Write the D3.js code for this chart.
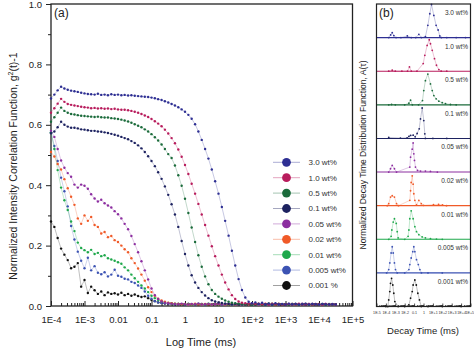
<!DOCTYPE html>
<html>
<head>
<meta charset="utf-8">
<script src="https://cdnjs.cloudflare.com/ajax/libs/d3/7.8.5/d3.min.js"></script>
<style>
body{margin:0;background:#fff;}
svg{display:block;font-family:"Liberation Sans",Arial,sans-serif;}
</style>
</head>
<body>
<div id="chart"></div>
<script>
// ---- panel (a) : correlation functions, one shared delay time grid (ms) ----
var times = [
  1.00e-4,1.26e-4,1.58e-4,2.00e-4,2.51e-4,3.16e-4,3.98e-4,5.01e-4,6.31e-4,7.94e-4,
  1.00e-3,1.26e-3,1.58e-3,2.00e-3,2.51e-3,3.16e-3,3.98e-3,5.01e-3,6.31e-3,7.94e-3,
  1.00e-2,1.26e-2,1.58e-2,2.00e-2,2.51e-2,3.16e-2,3.98e-2,5.01e-2,6.31e-2,7.94e-2,
  0.100,0.126,0.158,0.200,0.251,0.316,0.398,0.501,0.631,0.794,
  1.00,1.26,1.58,2.00,2.51,3.16,3.98,5.01,6.31,7.94,
  10.0,12.6,15.8,20.0,25.1,31.6,39.8,50.1,63.1,79.4,
  100,126,158,200,251,316,398,501,631,794,
  1000,1260,1580,2000,2510,3160,3980,5010,6310,7940,
  10000,12600,15800,20000,25100,31600
];

var g30 = [.687,.700,.714,.726,.720,.716,.713,.711,.709,.706,
  .704,.702,.701,.700,.703,.699,.700,.698,.701,.699,
  .700,.698,.699,.697,.698,.696,.695,.694,.693,.692,
  .690,.688,.685,.682,.678,.674,.669,.664,.658,.651,
  .643,.633,.620,.602,.578,.550,.520,.488,.452,.413,
  .372,.328,.282,.233,.183,.134,.089,.053,.028,.014,
  .009,.012,.007,.011,.006,.008,.005,.009,.006,.007,
  .005,.008,.006,.007,.005,.006,.008,.005,.007,.006,
  .005,.007,.006,.005,.006,.005];
var g10 = [.640,.655,.670,.686,.676,.669,.666,.664,.662,.660,
  .658,.657,.655,.656,.654,.655,.653,.654,.652,.653,
  .651,.650,.650,.648,.646,.643,.640,.636,.631,.626,
  .619,.612,.604,.595,.584,.571,.556,.539,.518,.494,
  .467,.437,.405,.372,.338,.303,.268,.233,.198,.165,
  .134,.104,.078,.055,.036,.023,.015,.011,.009,.008,
  .008,.007,.008,.006,.007,.005,.008,.006,.007,.005,
  .006,.007,.005,.006,.008,.005,.006,.007,.005,.006,
  .006,.005,.007,.005,.006,.005];
var g05 = [.610,.625,.640,.657,.646,.640,.636,.634,.632,.630,
  .629,.628,.627,.626,.627,.625,.624,.624,.622,.621,
  .619,.617,.614,.611,.607,.602,.597,.592,.585,.578,
  .569,.559,.548,.535,.520,.503,.490,.465,.433,.398,
  .355,.308,.260,.212,.168,.130,.098,.072,.053,.040,
  .031,.024,.018,.014,.011,.009,.008,.007,.006,.007,
  .005,.006,.007,.005,.006,.008,.005,.006,.007,.005,
  .006,.005,.007,.006,.005,.006,.007,.005,.006,.005,
  .006,.007,.005,.006,.005,.006];
var g01 = [.572,.578,.592,.610,.600,.594,.590,.590,.588,.585,
  .584,.582,.580,.580,.578,.577,.575,.573,.570,.567,
  .564,.560,.556,.552,.546,.540,.532,.522,.510,.496,
  .480,.463,.443,.421,.396,.368,.337,.303,.262,.215,
  .172,.134,.102,.078,.060,.046,.035,.026,.019,.015,
  .012,.010,.008,.007,.006,.007,.005,.006,.005,.007,
  .006,.005,.007,.006,.005,.006,.005,.007,.006,.005,
  .006,.005,.006,.007,.005,.006,.005,.006,.005,.007,
  .005,.006,.005,.006,.005,.006];
var g005 = [.580,.560,.520,.482,.458,.440,.428,.402,.392,.402,
  .398,.388,.370,.356,.346,.352,.340,.333,.326,.314,
  .304,.290,.272,.254,.232,.205,.178,.148,.118,.088,
  .058,.036,.023,.015,.011,.009,.008,.007,.006,.008,
  .006,.005,.007,.006,.008,.005,.006,.007,.005,.006,
  .007,.005,.006,.008,.006,.005,.007,.006,.005,.006,
  .008,.006,.005,.007,.006,.005,.006,.007,.005,.006,
  .005,.007,.006,.005,.006,.008,.005,.006,.007,.005,
  .006,.005,.007,.006,.005,.006];
var g002 = [.510,.495,.470,.452,.420,.390,.362,.335,.290,.272,
  .300,.282,.295,.268,.262,.240,.245,.228,.232,.218,
  .212,.200,.188,.178,.158,.142,.124,.104,.084,.062,
  .046,.034,.024,.018,.014,.011,.009,.008,.007,.006,
  .007,.005,.006,.008,.006,.005,.007,.006,.005,.006,
  .006,.007,.005,.006,.008,.005,.006,.007,.006,.005,
  .007,.005,.006,.006,.008,.005,.006,.005,.007,.006,
  .005,.006,.007,.005,.006,.005,.007,.006,.005,.006,
  .007,.005,.006,.005,.006,.005];
var g001 = [.575,.520,.450,.392,.350,.318,.280,.248,.210,.192,
  .185,.178,.186,.172,.176,.165,.168,.158,.154,.150,
  .145,.140,.128,.118,.104,.092,.080,.068,.058,.046,
  .034,.026,.020,.015,.012,.010,.009,.008,.007,.006,
  .006,.007,.005,.006,.007,.005,.006,.008,.005,.006,
  .005,.006,.007,.005,.006,.005,.007,.006,.005,.006,
  .006,.005,.007,.006,.005,.006,.008,.005,.006,.005,
  .007,.005,.006,.005,.006,.007,.005,.006,.005,.006,
  .005,.006,.005,.007,.005,.006];
var g0005 = [.575,.530,.480,.425,.380,.330,.265,.220,.180,.150,
  .125,.160,.118,.132,.110,.105,.112,.098,.104,.120,
  .100,.097,.090,.088,.080,.076,.068,.060,.048,.034,
  .024,.016,.012,.010,.009,.008,.007,.006,.007,.005,
  .006,.007,.005,.006,.008,.006,.005,.007,.006,.005,
  .006,.005,.007,.006,.005,.008,.006,.005,.006,.007,
  .005,.006,.005,.007,.006,.005,.006,.007,.005,.006,
  .006,.005,.007,.005,.006,.006,.005,.007,.006,.005,
  .006,.005,.006,.005,.007,.005];
var g0001 = [.280,.262,.225,.190,.170,.152,.125,.130,.142,.064,
  .086,.043,.064,.052,.040,.048,.036,.045,.040,.042,
  .038,.044,.036,.040,.034,.038,.033,.030,.032,.026,
  .020,.016,.012,.010,.008,.007,.008,.006,.007,.005,
  .006,.007,.005,.006,.005,.007,.006,.005,.006,.008,
  .005,.006,.007,.005,.006,.005,.006,.007,.005,.006,
  .007,.005,.006,.005,.006,.008,.005,.006,.007,.005,
  .006,.005,.006,.007,.005,.006,.005,.006,.007,.005,
  .006,.005,.006,.005,.006,.005];

var legendNames = ["3.0 wt%","1.0 wt%","0.5 wt%","0.1 wt%","0.05 wt%","0.02 wt%","0.01 wt%","0.005 wt%","0.001 %"];
var colors = ["#2e2f93","#b81c5c","#1b6b3b","#1d2260","#8c2ea0","#f05a28","#1ea84b","#3c53b3","#111111"];
var seriesA = [g30,g10,g05,g01,g005,g002,g001,g0005,g0001];

var xTicksA = [1e-4,1e-3,1e-2,1e-1,1,10,1e2,1e3,1e4,1e5];
var xTickLabelsA = ["1E-4","1E-3","0.01","0.1","1","10","1E+2","1E+3","1E+4","1E+5"];

// ---- panel (b) : decay time distributions, tau in ms ----
var panelNames = ["3.0 wt%","1.0 wt%","0.5 wt%","0.1 wt%","0.05 wt%","0.02 wt%","0.01 wt%","0.005 wt%","0.001 wt%"];
var tau30 = [2e-4,3.2e-4,4.7e-4,7e-4,1.2e-3,4e-3,1.9e-2,5e-2,0.15,0.32,0.6,1.6,2.9,4.7,7.1,12.6,22,36,54,80,300,3000,3e4];
var amp30 = [0,.08,.15,.06,0,0,.05,0,0,.10,0,.03,.37,.72,1.0,.67,.37,.23,.05,0,0,0,0];
var tau10 = [2e-4,4.7e-4,1e-3,5e-3,0.02,0.032,0.05,0.2,0.93,1.38,2.45,4.1,5.5,8.5,14.8,24,43,76,300];
var amp10 = [0,.03,0,0,0,.13,0,0,.23,.48,.78,.95,.83,.63,.38,.18,.05,0,0];
var tau05 = [2e-4,4e-4,1e-3,0.01,0.028,0.042,0.065,0.3,0.78,1.07,1.6,2.9,5.5,8.5,12.6,22,43,98,219,740,3000];
var amp05 = [0,.01,0,0,.05,.14,0,0,.13,.43,.73,.93,.63,.43,.28,.18,.11,.065,.035,.01,0];
var tau01 = [2e-4,3.5e-3,0.018,0.028,0.042,0.08,0.13,0.21,0.35,0.48,0.72,1.07,1.38,1.6,10,300];
var amp01 = [.03,.01,.02,.06,.09,.10,.05,.15,.29,.59,.92,.54,.14,0,0,0];
var tau005 = [2e-4,3.1e-4,4.7e-4,8.1e-4,1.35e-3,0.035,0.042,0.063,0.079,0.093,0.11,0.14,0.23,0.48,1.6,5.5,30];
var amp005 = [0,.10,.20,.10,0,.15,.45,.69,.88,.55,.35,.15,.05,.03,.03,.02,0];
var tau002 = [1.4e-4,2e-4,3.1e-4,4.7e-4,8.1e-4,1.35e-3,2.2e-3,0.035,0.042,0.049,0.063,0.079,0.093,0.12,0.18,0.32,0.58,1.0,11.5,40,105,280];
var amp002 = [0,.06,.26,.30,.26,.06,0,.16,.45,.70,.90,.65,.36,.16,.02,.16,.06,.01,.03,.04,.02,0];
var tau001 = [2e-4,3.6e-4,4.3e-4,6e-4,8.1e-4,1.26e-3,1.6e-3,2e-3,0.01,0.023,0.028,0.035,0.049,0.079,0.12,0.18,0.32,0.72,1.6,5.5,24,100];
var amp001 = [0,.09,.28,.52,.62,.48,.23,.04,0,.09,.28,.62,.86,.62,.38,.23,.14,.07,.04,.02,.005,0];
var tau0005 = [1.2e-4,2e-4,2.6e-4,3.6e-4,4.7e-4,6e-4,8.1e-4,1.05e-3,1.6e-3,0.01,0.028,0.035,0.049,0.072,0.093,0.12,0.18,0.28,0.41,0.6,3,100];
var amp0005 = [0,.10,.30,.60,.79,.60,.30,.10,0,0,.10,.25,.45,.64,.79,.64,.40,.25,.10,0,0,0];
var tau0001 = [1e-4,1.6e-4,2e-4,2.6e-4,3.1e-4,4e-4,5.4e-4,6.9e-4,8.9e-4,2e-3,0.01,0.028,0.042,0.063,0.079,0.12,0.17,0.25,0.37,0.58,3,100,1e4];
var amp0001 = [0,0,.20,.45,.70,.85,.65,.40,.15,0,0,.05,.25,.45,.65,.80,.65,.40,.20,0,0,0,0];

var tauB = [tau30,tau10,tau05,tau01,tau005,tau002,tau001,tau0005,tau0001];
var ampB = [amp30,amp10,amp05,amp01,amp005,amp002,amp001,amp0005,amp0001];
var xTicksB = [1e-5,1e-4,1e-3,1e-2,0.1,1,10,100,1e3,1e4,1e5];
var xTickLabelsB = ["1E-5","1E-4","1E-3","1E-2","0.1","1","1E+1","1E+2","1E+3","1E+4","1E+5"];

var W = 474, H = 348;
var svg = d3.select("#chart").append("svg").attr("width",W).attr("height",H);

// minor log ticks between decades
function minorTicks(lo, hi){
    var out = [];
    for (var e = lo; e < hi; e++){
        for (var m = 2; m < 10; m++) out.push(m*Math.pow(10,e));
    }
    return out;
}

/* ================= panel (a) ================= */
var A = {left:51, right:352.5, top:4, bottom:306};
var xA = d3.scaleLog().domain([1e-4,1e5]).range([A.left,A.right]);
var yA = d3.scaleLinear().domain([0,1]).range([A.bottom,A.top]);

var ga = svg.append("g");

// y axis
ga.append("g").attr("transform","translate("+A.left+",0)")
    .call(d3.axisLeft(yA).tickValues([.1,.3,.5,.7,.9]).tickSize(3).tickFormat(""));
ga.append("g").attr("class","ax").attr("transform","translate("+A.left+",0)")
    .call(d3.axisLeft(yA).tickValues([0,.2,.4,.6,.8,1]).tickSize(5).tickPadding(4).tickFormat(d3.format(".1f")));

// x axis (ticks inside)
ga.append("g").attr("transform","translate(0,"+A.bottom+")")
    .call(d3.axisBottom(xA).tickValues(minorTicks(-4,5)).tickSize(-3).tickFormat(""));
ga.append("g").attr("class","ax").attr("transform","translate(0,"+A.bottom+")")
    .call(d3.axisBottom(xA).tickValues(xTicksA).tickSize(-5).tickPadding(10)
        .tickFormat(function(d,i){ return xTickLabelsA[i]; }));

ga.selectAll(".domain").remove();
ga.selectAll(".tick line").attr("stroke","#222").attr("stroke-width",1);
ga.selectAll(".ax text").attr("font-size","9.5px").attr("fill","#222");

ga.append("rect").attr("x",A.left).attr("y",A.top)
    .attr("width",A.right-A.left).attr("height",A.bottom-A.top)
    .attr("fill","none").attr("stroke","#222").attr("stroke-width",1.3);

var lineA = d3.line()
    .x(function(d,i){ return xA(times[i]); })
    .y(function(d){ return yA(d); });

for (var s = seriesA.length-1; s >= 0; s--){
    var gs = ga.append("g");
    gs.append("path").datum(seriesA[s]).attr("d",lineA)
        .attr("fill","none").attr("stroke",colors[s])
        .attr("stroke-opacity",0.45).attr("stroke-width",0.6);
    gs.selectAll("circle").data(seriesA[s]).enter().append("circle")
        .attr("cx",function(d,i){ return xA(times[i]); })
        .attr("cy",function(d){ return yA(d); })
        .attr("r",1.2).attr("fill",colors[s]);
}

// legend
var leg = ga.append("g");
legendNames.forEach(function(n,i){
    var yy = 162.3 + i*15.4;
    leg.append("line").attr("x1",273).attr("x2",300).attr("y1",yy).attr("y2",yy)
        .attr("stroke",colors[i]).attr("stroke-opacity",0.5).attr("stroke-width",0.8);
    leg.append("circle").attr("cx",286.5).attr("cy",yy).attr("r",4.4).attr("fill",colors[i]);
    leg.append("text").attr("x",308.5).attr("y",yy+2.9).attr("font-size","8px")
        .attr("fill","#333").text(n);
});

ga.append("text").attr("x",54).attr("y",17).attr("font-size","12px").attr("fill","#222").text("(a)");
ga.append("text").attr("x",201).attr("y",346).attr("text-anchor","middle")
    .attr("font-size","11px").attr("fill","#222").text("Log Time (ms)");
var yl = ga.append("text").attr("transform","translate(17,166) rotate(-90)")
    .attr("text-anchor","middle").attr("font-size","10.5px").attr("fill","#222");
yl.append("tspan").text("Normalized Intensity Correlation Function, g");
yl.append("tspan").attr("font-size","7px").attr("dy","-4").text("2");
yl.append("tspan").attr("dy","4").text("(t)-1");

/* ================= panel (b) ================= */
var B = {left:376.5, right:470.5, top:4, bottom:306.5};
var nB = panelNames.length;
var hB = (B.bottom-B.top)/nB;
var xB = d3.scaleLog().domain([1e-5,1e5]).range([B.left,B.right]);
var gb = svg.append("g");

panelNames.forEach(function(n,i){
    var top = B.top + i*hB, bot = top + hB;
    var yB = d3.scaleLinear().domain([0,1]).range([bot, top+0.5]);
    var line = d3.line()
        .x(function(d,j){ return xB(tauB[i][j]); })
        .y(function(d){ return yB(d); });
    gb.append("path").datum(ampB[i]).attr("d",line)
        .attr("fill","none").attr("stroke",colors[i])
        .attr("stroke-opacity",0.45).attr("stroke-width",0.6);
    gb.append("line").attr("x1",B.left).attr("x2",B.right).attr("y1",bot).attr("y2",bot)
        .attr("stroke",i==nB-1 ? "#222" : colors[i]).attr("stroke-width",1.1);
    gb.selectAll(".pt"+i).data(ampB[i]).enter().append("circle")
        .attr("cx",function(d,j){ return xB(tauB[i][j]); })
        .attr("cy",function(d){ return yB(d); })
        .attr("r",0.9).attr("fill",colors[i]);
    gb.append("text").attr("x",468).attr("y",top+11).attr("text-anchor","end")
        .attr("font-size","6.5px").attr("fill","#333").text(n);
});

gb.append("rect").attr("x",B.left).attr("y",B.top)
    .attr("width",B.right-B.left).attr("height",B.bottom-B.top)
    .attr("fill","none").attr("stroke","#222").attr("stroke-width",1.2);

var axb = gb.append("g").attr("transform","translate(0,"+B.bottom+")");
axb.call(d3.axisBottom(xB).tickValues(minorTicks(-5,5)).tickSize(-1.5).tickFormat(""));
var axb2 = gb.append("g").attr("transform","translate(0,"+B.bottom+")");
axb2.call(d3.axisBottom(xB).tickValues(xTicksB).tickSize(-3).tickPadding(5)
    .tickFormat(function(d,i){ return xTickLabelsB[i]; }));
gb.selectAll(".domain").remove();
gb.selectAll(".tick line").attr("stroke","#222").attr("stroke-width",0.8);
axb2.selectAll("text").attr("font-size","3.7px").attr("fill","#333");
// keep the last label inside the picture
axb2.selectAll(".tick:last-of-type text").attr("text-anchor","end").attr("dx","3.1");

gb.append("text").attr("x",379).attr("y",17).attr("font-size","12px").attr("fill","#222").text("(b)");
gb.append("text").attr("x",423).attr("y",334).attr("text-anchor","middle")
    .attr("font-size","9.5px").attr("fill","#222").text("Decay Time (ms)");
gb.append("text").attr("transform","translate(366,155) rotate(-90)")
    .attr("text-anchor","middle").attr("font-size","8.5px").attr("fill","#222")
    .text("Normalized Decay Time Distribution Function, A(\u03c4)");
</script>
</body>
</html>
